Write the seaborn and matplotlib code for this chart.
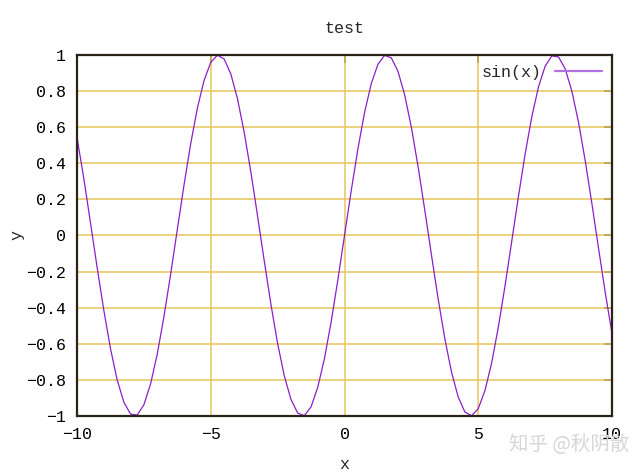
import matplotlib
matplotlib.use('Agg')
import matplotlib.pyplot as plt
import seaborn as sns
import pandas as pd

# 데이터
x_vals = [-10.0, -9.75, -9.5, -9.25, -9.0, -8.75, -8.5, -8.25, -8.0, -7.75,
          -7.5, -7.25, -7.0, -6.75, -6.5, -6.25, -6.0, -5.75, -5.5, -5.25,
          -5.0, -4.75, -4.5, -4.25, -4.0, -3.75, -3.5, -3.25, -3.0, -2.75,
          -2.5, -2.25, -2.0, -1.75, -1.5, -1.25, -1.0, -0.75, -0.5, -0.25,
          0.0, 0.25, 0.5, 0.75, 1.0, 1.25, 1.5, 1.75, 2.0, 2.25,
          2.5, 2.75, 3.0, 3.25, 3.5, 3.75, 4.0, 4.25, 4.5, 4.75,
          5.0, 5.25, 5.5, 5.75, 6.0, 6.25, 6.5, 6.75, 7.0, 7.25,
          7.5, 7.75, 8.0, 8.25, 8.5, 8.75, 9.0, 9.25, 9.5, 9.75, 10.0]
y_vals = [0.544, 0.320, 0.075, -0.174, -0.412, -0.625, -0.799, -0.923, -0.989, -0.995,
          -0.938, -0.823, -0.657, -0.450, -0.215, 0.033, 0.279, 0.508, 0.706, 0.859,
          0.959, 0.999, 0.978, 0.895, 0.757, 0.572, 0.351, 0.108, -0.141, -0.382,
          -0.599, -0.778, -0.909, -0.984, -0.998, -0.949, -0.841, -0.682, -0.479, -0.247,
          0.0, 0.247, 0.479, 0.682, 0.841, 0.949, 0.998, 0.984, 0.909, 0.778,
          0.599, 0.382, 0.141, -0.108, -0.351, -0.572, -0.757, -0.895, -0.978, -0.999,
          -0.959, -0.859, -0.706, -0.508, -0.279, -0.033, 0.215, 0.450, 0.657, 0.823,
          0.938, 0.995, 0.989, 0.923, 0.799, 0.625, 0.412, 0.174, -0.075, -0.320, -0.544]
x_ticks = [-10, -5, 0, 5, 10]
y_ticks = [-1, -0.8, -0.6, -0.4, -0.2, 0, 0.2, 0.4, 0.6, 0.8, 1]
y_tick_labels = ['-1', '-0.8', '-0.6', '-0.4', '-0.2', '0', '0.2', '0.4', '0.6', '0.8', '1']

df = pd.DataFrame({'x': x_vals, 'y': y_vals})

sns.set_style('white')
plt.rcParams['font.family'] = ['Liberation Mono', 'Noto Sans CJK SC', 'DejaVu Sans']

fig = plt.figure(figsize=(6.4, 4.74), dpi=100)
ax = fig.add_axes([0.1203, 0.1224, 0.8360, 0.7616])

# 그리드 (주 눈금 위치)
grid_color = '#e8c65a'
for yv in y_ticks[1:-1]:
    ax.axhline(yv, color=grid_color, lw=1.1, zorder=1)
for xv in x_ticks[1:-1]:
    ax.axvline(xv, color=grid_color, lw=1.1, zorder=1)

sns.lineplot(data=df, x='x', y='y', sort=False, color='#8a1fc8', lw=0.9,
             label='sin(x)', ax=ax, zorder=3)

ax.set_xlim(-10, 10)
ax.set_ylim(-1, 1)
ax.set_xticks(x_ticks)
ax.set_xticklabels([str(v).replace('-', '\u2212') for v in x_ticks])
ax.set_yticks(y_ticks)
ax.set_yticklabels([s.replace('-', '\u2212') for s in y_tick_labels])
ax.tick_params(direction='in', length=6, width=1.2, color='#3a3020',
               top=True, right=True, labelsize=12, pad=8, labelcolor='black')

for sp in ax.spines.values():
    sp.set_color('#2a2418')
    sp.set_linewidth(1.6)
    sp.set_zorder(4)

ax.set_xlabel('x', fontsize=12)
ax.xaxis.set_label_coords(0.5, -0.115)
ax.set_ylabel('y', fontsize=12)
ax.yaxis.set_label_coords(-0.098, 0.5)
ax.set_title('test', fontsize=12, pad=16)

leg = ax.legend(loc='upper right', frameon=False, markerfirst=False, fontsize=12,
                handlelength=2.8, borderaxespad=0.2, handletextpad=0.8)
for line in leg.get_lines():
    line.set_color('#b070e0')
    line.set_linewidth(1.6)

# 워터마크
fig.text(0.983, 0.062, '知乎 @秋阴散', ha='right', va='center', fontsize=14,
         color='#d6d6d6', family=['Noto Sans CJK SC', 'DejaVu Sans'], zorder=0)

fig.savefig('out.png', dpi=100, facecolor='white')
